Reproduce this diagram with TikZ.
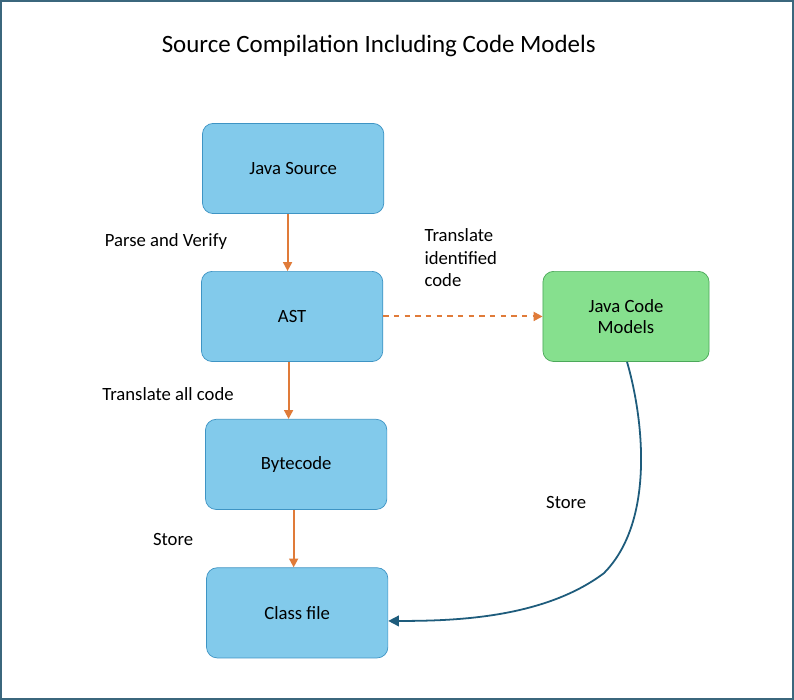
\documentclass[tikz,border=0pt]{standalone}
\usepackage{fontspec}
\setmainfont{Carlito}
\usetikzlibrary{arrows.meta}
\definecolor{boxblue}{HTML}{82CAEB}
\definecolor{edgeblue}{HTML}{3E94C4}
\definecolor{boxgreen}{HTML}{86E08E}
\definecolor{edgegreen}{HTML}{4CA85A}
\definecolor{arrorange}{HTML}{E07B39}
\definecolor{darkteal}{HTML}{1E5C7C}
\begin{document}
\begin{tikzpicture}[x=0.02cm,y=-0.02cm,
  box/.style={draw=edgeblue,fill=boxblue,rounded corners=6pt,minimum width=3.58cm,minimum height=1.78cm,font=\fontsize{10.5}{12}\selectfont,align=center},
  gbox/.style={box,draw=edgegreen,fill=boxgreen,minimum width=3.28cm},
  lbl/.style={font=\fontsize{10.5}{12.5}\selectfont},
  oarr/.style={draw=arrorange,line width=1.1pt,-{Triangle[length=5pt,width=5pt]}}]
\draw[draw=darkteal!70!gray,line width=0.9pt,fill=white] (5,5) rectangle (787,694);
\node[font=\fontsize{14}{16}\selectfont] (title) at (378,50) {Source Compilation Including Code Models};
\node[box] (src) at (293.5,170.5) {Java Source};
\node[box] (ast) at (292.5,316.5) {AST};
\node[box] (byte) at (296.5,462.5) {Bytecode};
\node[box] (cls) at (297.5,609) {Class file};
\node[gbox] (jcm) at (622,316.5) {Java Code\\Models};
\draw[oarr] (src.south -| 288,0) -- (ast.north -| 288,0);
\draw[oarr] (ast.south -| 289,0) -- (byte.north -| 289,0);
\draw[oarr] (byte.south -| 294,0) -- (cls.north -| 294,0);
\draw[oarr,dashed] (ast.east) -- (jcm.west);
\draw[darkteal,line width=1pt,-{Triangle[length=6pt,width=6pt]}]
  (jcm.south -| 623,0) .. controls (640,420) and (650,520) .. (600,570)
  .. controls (540,615) and (450,617) .. (cls.east |- 0,617);
\node[lbl] (l1) at (168,243) {Parse and Verify};
\node[lbl] (l2) at (170,393) {Translate all code};
\node[lbl] (l3) at (175,537) {Store};
\node[lbl,align=left,anchor=north west] (l4) at (417,224) {Translate\\identified\\code};
\node[lbl] (l5) at (563,500) {Store};
\end{tikzpicture}
\end{document}
